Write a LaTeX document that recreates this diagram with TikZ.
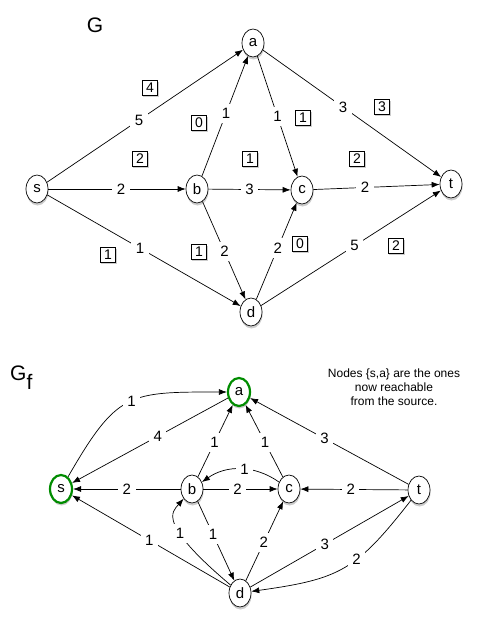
\documentclass[tikz,border=0pt]{standalone}
\usepackage{fontspec}
\setmainfont{Liberation Sans}
\usetikzlibrary{positioning,shapes.geometric,arrows.meta,shadows}

\begin{document}
\begin{tikzpicture}[x=1pt, y=-1pt,
    vertex/.style={ellipse, draw, fill=white, line width=0.7pt, minimum width=22pt, minimum height=28pt, inner sep=0pt,
        font=\fontsize{15}{15}\selectfont, drop shadow={opacity=0.4, shadow xshift=0.5pt, shadow yshift=-2.5pt}},
    reached/.style={vertex, draw=green!55!black, line width=2.2pt},
    flowbox/.style={rectangle, draw, fill=white, line width=0.6pt, minimum size=15.5pt, inner sep=0pt,
        font=\fontsize{14}{14}\selectfont, drop shadow={opacity=0.4, shadow xshift=1pt, shadow yshift=-1.5pt}},
    wt/.style={fill=white, inner sep=4.5pt, font=\fontsize{15}{15}\selectfont},
    link/.style={-{Latex[length=8pt,width=6pt]}, line width=0.7pt}]
    \useasboundingbox (0,0) rectangle (482,629);

    % Network G
    \node at (95,25) (gtitle) {\fontsize{21}{24}\selectfont G};
    \node[vertex] at (253,43) (a) {a};
    \node[vertex] at (37,189) (s) {s};
    \node[vertex] at (197,189) (b) {b};
    \node[vertex] at (302,190) (c) {c};
    \node[vertex] at (451,184) (t) {t};
    \node[vertex] at (251,312) (d) {d};

    % Capacities
    \draw[link] (s) -- node[wt, pos=.47] {5} (a);
    \draw[link] (b) -- node[wt, pos=.52] {1} (a);
    \draw[link] (a) -- node[wt, pos=.50] {1} (c);
    \draw[link] (a) -- node[wt, pos=.45] {3} (t);
    \draw[link] (s) -- node[wt, pos=.53] {2} (b);
    \draw[link] (b) -- node[wt, pos=.50] {3} (c);
    \draw[link] (c) -- node[wt, pos=.41] {2} (t);
    \draw[link] (s) -- node[wt, pos=.48] {1} (d);
    \draw[link] (b) -- node[wt, pos=.51] {2} (d);
    \draw[link] (d) -- node[wt, pos=.53] {2} (c);
    \draw[link] (d) -- node[wt, pos=.52] {5} (t);

    % Flow values
    \node[flowbox] at (150,88) (fsa) {4};
    \node[flowbox] at (199,123) (fba) {0};
    \node[flowbox] at (303,118) (fac) {1};
    \node[flowbox] at (382,107) (fat) {3};
    \node[flowbox] at (140,159) (fsb) {2};
    \node[flowbox] at (250,159) (fbc) {1};
    \node[flowbox] at (357,159) (fct) {2};
    \node[flowbox] at (108,255) (fsd) {1};
    \node[flowbox] at (199,252) (fbd) {1};
    \node[flowbox] at (300,244) (fdc) {0};
    \node[flowbox] at (396,246) (fdt) {2};

    % Residual network G_f
    \node[anchor=base west, inner sep=0pt] at (10,380) (gftitle) {\fontsize{21}{24}\selectfont G\raisebox{-9pt}{f}};
    \node[align=center, font=\fontsize{12}{14}\selectfont] at (394,387) (note) {Nodes \{s,a\} are the ones\\now reachable\\from the source.};
    \node[reached] at (239,392) (ra) {a};
    \node[reached] at (61,489) (rs) {s};
    \node[vertex] at (192,489) (rb) {b};
    \node[vertex] at (289,489) (rc) {c};
    \node[vertex] at (419,490) (rt) {t};
    \node[vertex] at (240,593) (rd) {d};

    % Residual capacities
    \draw[link] (rs) to[out=60, in=180, looseness=1.4] node[wt, pos=.52] {1} (ra);
    \draw[link] (ra) -- node[wt, pos=.45] {4} (rs);
    \draw[link] (rb) -- node[wt, pos=.48] {1} (ra);
    \draw[link] (rc) -- node[wt, pos=.48] {1} (ra);
    \draw[link] (rt) -- node[wt, pos=.53] {3} (ra);
    \draw[link] (rc) to[out=145, in=35] node[wt, pos=.45] {1} (rb);
    \draw[link] (rb) -- node[wt, pos=.50] {2} (rs);
    \draw[link] (rb) -- node[wt, pos=.46] {2} (rc);
    \draw[link] (rt) -- node[wt, pos=.53] {2} (rc);
    \draw[link] (rd) -- node[wt, pos=.51] {1} (rs);
    \draw[link] (rd) .. controls (157,523) and (172,512) .. node[wt, pos=.38] {1} (rb);
    \draw[link] (rb) -- node[wt, pos=.42] {1} (rd);
    \draw[link] (rd) -- node[wt, pos=.48] {2} (rc);
    \draw[link] (rd) -- node[wt, pos=.47] {3} (rt);
    \draw[link] (rt) to[out=232, in=8, looseness=1.25] node[wt, pos=.4] {2} (rd);
\end{tikzpicture}
\end{document}
